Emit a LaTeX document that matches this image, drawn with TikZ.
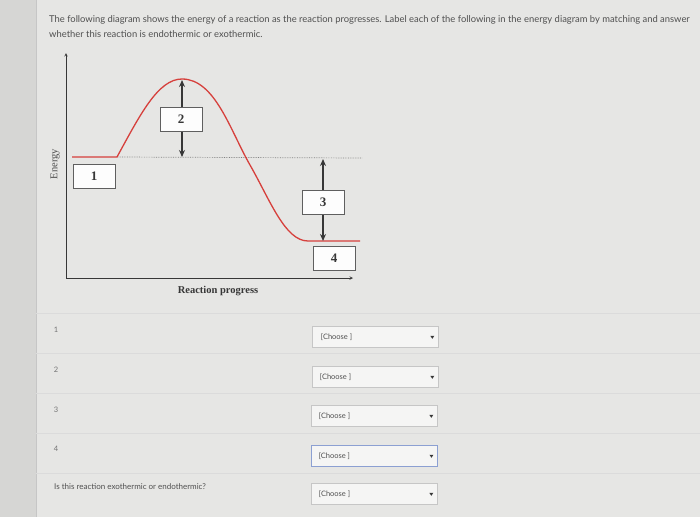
\documentclass[tikz,border=0pt]{standalone}
\usepackage{fontspec}
\setmainfont{Liberation Serif}
\newfontfamily\uifont{Lato}
\usetikzlibrary{arrows,arrows.meta,positioning}
\definecolor{pagegray}{RGB}{230,230,228}
\definecolor{stripgray}{RGB}{214,214,212}
\definecolor{curvered}{RGB}{214,64,60}
\definecolor{inkgray}{RGB}{55,55,55}
\definecolor{uitext}{RGB}{80,80,80}
\definecolor{focusblue}{RGB}{140,160,210}

\begin{document}
\begin{tikzpicture}[x=1pt,y=-1pt,
    numbox/.style={draw=inkgray!80,fill=white!92!pagegray,line width=0.6pt,minimum width=42pt,minimum height=24pt,font=\fontsize{13}{13}\selectfont\bfseries,text=inkgray},
    choosebox/.style={draw=gray!45,fill=white!60!pagegray,line width=0.6pt,minimum width=126pt,minimum height=21pt},
    choosetext/.style={font=\uifont\fontsize{7.5}{8}\selectfont,text=uitext,inner sep=0pt,anchor=west},
    rowlabel/.style={font=\uifont\fontsize{7.5}{8}\selectfont,text=uitext!80},
    sepline/.style={draw=gray!28,line width=0.6pt},
    gaparrow/.style={{Stealth[length=7pt,width=6pt]}-{Stealth[length=7pt,width=6pt]},inkgray,line width=1.2pt}]
  \fill[pagegray] (0,0) rectangle (700,517);
  \useasboundingbox (0,0) rectangle (700,517);
  \fill[stripgray] (0,0) rectangle (36,517);
  \draw[gray!45] (36,0) -- (36,517);
  % question text
  \node[anchor=west,inner sep=0pt,font=\uifont\fontsize{9.4}{10}\selectfont,text=uitext] (intro1) at (49,20) {The following diagram shows the energy of a reaction as the reaction progresses. Label each of the following in the energy diagram by matching and answer};
  \node[anchor=west,inner sep=0pt,font=\uifont\fontsize{9.4}{10}\selectfont,text=uitext] (intro2) at (49,34) {whether this reaction is endothermic or exothermic.};
  % energy diagram
  \coordinate (origin) at (66,278);
  \coordinate (ytop) at (66,53);
  \coordinate (xend) at (353,278);
  \coordinate (rstart) at (72,157);
  \coordinate (rend) at (117,157);
  \coordinate (peak) at (182,79);
  \coordinate (peaktip) at (182,80);
  \coordinate (peakbase) at (182,157);
  \coordinate (pstart) at (308,241);
  \coordinate (pend) at (360,241);
  \coordinate (dotend) at (362,158);
  \coordinate (droptop) at (323,159);
  \coordinate (dropbase) at (323,241);
  \draw[-stealth,inkgray,line width=0.6pt] (origin) -- (ytop);
  \draw[-stealth,inkgray,line width=0.6pt] (origin) -- (xend);
  \node[rotate=90,font=\fontsize{10.5}{10}\selectfont,text=inkgray!90] (energy) at (55,164) {Energy};
  \node[font=\fontsize{10.5}{11}\selectfont\bfseries,text=inkgray] (progress) at (218,291) {Reaction progress};
  \draw[densely dotted,gray,line width=0.7pt] (rend) -- (dotend);
  \draw[curvered,line width=1.3pt] (rstart) -- (rend) .. controls (140,115) and (158,79) .. (peak) .. controls (215,79) and (230,130) .. (250,165) .. controls (270,200) and (285,241) .. (pstart) -- (pend);
  \draw[gaparrow] (peakbase) -- (peaktip);
  \draw[gaparrow] (droptop) -- (dropbase);
  \node[numbox] (box1) at (94,176) {1};
  \node[numbox] (box2) at (181,119) {2};
  \node[numbox] (box3) at (323,202) {3};
  \node[numbox] (box4) at (334,258) {4};
  % matching rows
  \draw[sepline] (36,313) -- (700,313);
  \draw[sepline] (36,353) -- (700,353);
  \draw[sepline] (36,393) -- (700,393);
  \draw[sepline] (36,433) -- (700,433);
  \draw[sepline] (36,473) -- (700,473);
  \node[rowlabel] (row1) at (56,330) {1};
  \node[rowlabel] (row2) at (56,370) {2};
  \node[rowlabel] (row3) at (56,410) {3};
  \node[rowlabel] (row4) at (56,449) {4};
  \node[anchor=west,inner sep=0pt,font=\uifont\fontsize{8}{9}\selectfont,text=uitext] (row5) at (54,487) {Is this reaction exothermic or endothermic?};
  \node[choosebox] (dd1) at (375,337) {};
  \node[choosebox] (dd2) at (375,377) {};
  \node[choosebox] (dd3) at (374,416) {};
  \node[choosebox,draw=focusblue,line width=0.9pt] (dd4) at (374,456) {};
  \node[choosebox] (dd5) at (374,494) {};
  \node[choosetext,right=9pt of dd1.west] (ch1) {[Choose ]};
  \node[choosetext,right=8pt of dd2.west] (ch2) {[Choose ]};
  \node[choosetext,right=8pt of dd3.west] (ch3) {[Choose ]};
  \node[choosetext,right=8pt of dd4.west] (ch4) {[Choose ]};
  \node[choosetext,right=8pt of dd5.west] (ch5) {[Choose ]};
  \fill[inkgray] ([xshift=-6pt]dd1.east) +(-2,-1.2) -- +(2,-1.2) -- +(0,1.8) -- cycle;
  \fill[inkgray] ([xshift=-6pt]dd2.east) +(-2,-1.2) -- +(2,-1.2) -- +(0,1.8) -- cycle;
  \fill[inkgray] ([xshift=-6pt]dd3.east) +(-2,-1.2) -- +(2,-1.2) -- +(0,1.8) -- cycle;
  \fill[inkgray] ([xshift=-6pt]dd4.east) +(-2,-1.2) -- +(2,-1.2) -- +(0,1.8) -- cycle;
  \fill[inkgray] ([xshift=-6pt]dd5.east) +(-2,-1.2) -- +(2,-1.2) -- +(0,1.8) -- cycle;
\end{tikzpicture}
\end{document}
